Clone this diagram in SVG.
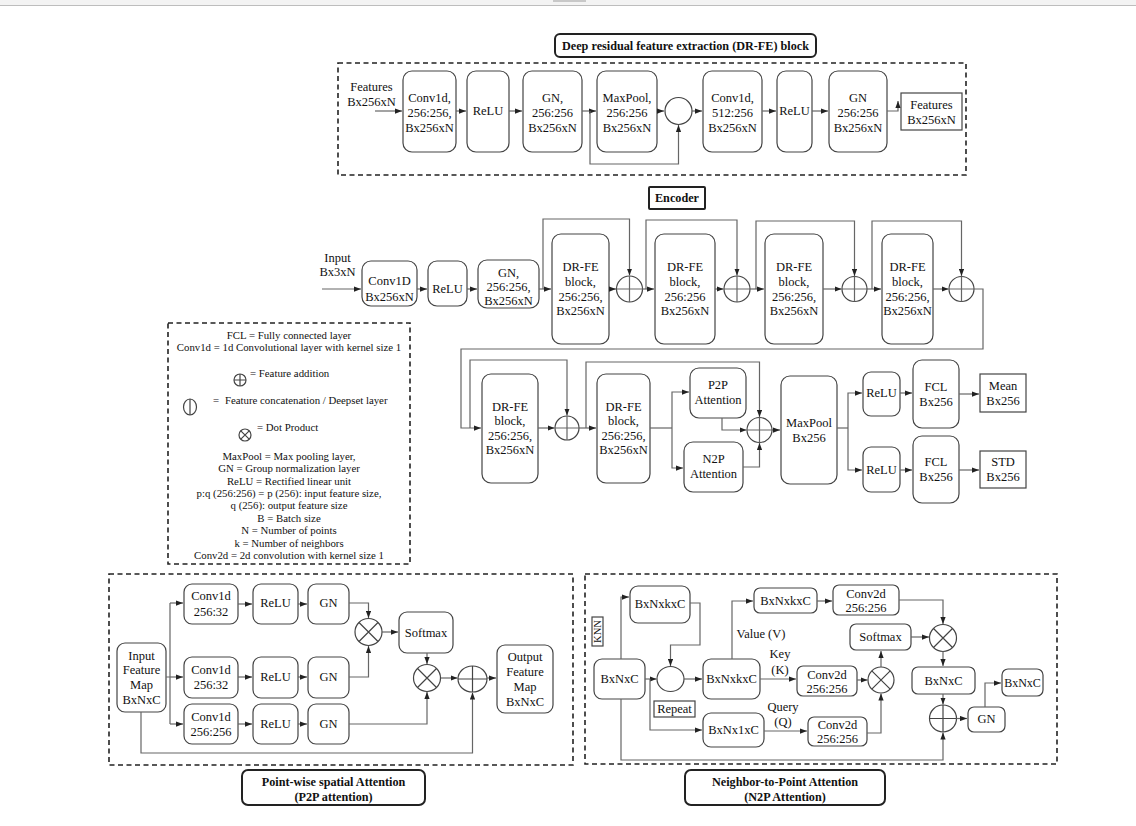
<svg xmlns="http://www.w3.org/2000/svg" width="1136" height="826" viewBox="0 0 1136 826" font-family="'Liberation Serif', 'Times New Roman', serif">
<style>
text{font-family:'Liberation Serif','Times New Roman',Times,serif;font-size:12.5px;fill:#111;text-anchor:middle}
.lg{font-size:10.8px}
.st{text-anchor:start}
.tt{font-weight:bold;font-size:12.2px}
.b{fill:#fff;stroke:#444;stroke-width:1.2}
.tb{fill:#fff;stroke:#222;stroke-width:2}
.dash{fill:none;stroke:#222;stroke-width:1.6;stroke-dasharray:5,3.5}
.c{fill:none;stroke:#666;stroke-width:1.2}
.a{fill:none;stroke:#666;stroke-width:1.2;marker-end:url(#ah)}
.sym{fill:#fff;stroke:#444;stroke-width:1.2}
</style>
<defs>
<marker id="ah" viewBox="0 0 8 6" refX="8" refY="3" markerWidth="7" markerHeight="5.5" orient="auto" markerUnits="userSpaceOnUse"><path d="M0,0 L8,3 L0,6 z" fill="#222"/></marker>
</defs>
<rect x="0" y="0" width="1136" height="826" fill="#fff"/>
<rect x="0" y="0" width="1136" height="5" fill="#f3f3f3"/>
<line x1="0" y1="5.5" x2="1136" y2="5.5" stroke="#bdbdbd" stroke-width="1"/>
<rect x="553" y="0" width="33" height="2" fill="#c8c8c8"/>

<!-- ===== DR-FE block ===== -->
<g id="drfe-frame">
<rect class="dash" x="338" y="63" width="628" height="112"/>
<rect class="tb" x="555" y="34" width="261" height="23" rx="5"/>
<text class="tt" x="685.5" y="50">Deep residual feature extraction (DR-FE) block</text>
</g>
<g id="drfe-in"><text x="371.5" y="91">Features</text><text x="371.5" y="106">Bx256xN</text></g>
<g id="drfe-conv1"><rect class="b" x="403" y="71" width="53" height="81" rx="9"/><text x="429.5" y="102">Conv1d,</text><text x="429.5" y="117">256:256,</text><text x="429.5" y="132">Bx256xN</text></g>
<g id="drfe-relu1"><rect class="b" x="467" y="71" width="42" height="81" rx="9"/><text x="488" y="115">ReLU</text></g>
<g id="drfe-gn1"><rect class="b" x="523" y="71" width="59" height="81" rx="9"/><text x="552.5" y="102">GN,</text><text x="552.5" y="117">256:256</text><text x="552.5" y="132">Bx256xN</text></g>
<g id="drfe-mp"><rect class="b" x="597" y="71" width="60" height="81" rx="9"/><text x="627" y="102">MaxPool,</text><text x="627" y="117">256:256</text><text x="627" y="132">Bx256xN</text></g>
<g id="drfe-cat"><circle class="sym" cx="678.5" cy="111" r="13.5"/></g>
<g id="drfe-conv2"><rect class="b" x="703" y="71" width="59" height="81" rx="9"/><text x="732.5" y="102">Conv1d,</text><text x="732.5" y="117">512:256</text><text x="732.5" y="132">Bx256xN</text></g>
<g id="drfe-relu2"><rect class="b" x="777" y="71" width="35" height="81" rx="9"/><text x="794.5" y="115">ReLU</text></g>
<g id="drfe-gn2"><rect class="b" x="829" y="71" width="58" height="81" rx="9"/><text x="858" y="102">GN</text><text x="858" y="117">256:256</text><text x="858" y="132">Bx256xN</text></g>
<g id="drfe-out"><rect class="b" x="901" y="93" width="61" height="37"/><text x="931.5" y="109">Features</text><text x="931.5" y="124">Bx256xN</text></g>

<!-- ===== Encoder ===== -->
<g id="enc-title"><rect class="tb" x="649" y="187" width="56" height="22" rx="1"/><text class="tt" x="677" y="202">Encoder</text></g>
<g id="enc-in"><text x="337.5" y="262">Input</text><text x="337.5" y="276">Bx3xN</text></g>
<g id="enc-conv"><rect class="b" x="362" y="261" width="55" height="45" rx="9"/><text x="389.5" y="285">Conv1D</text><text x="389.5" y="301">Bx256xN</text></g>
<g id="enc-relu"><rect class="b" x="428" y="261" width="39" height="45" rx="9"/><text x="447.5" y="293">ReLU</text></g>
<g id="enc-gn"><rect class="b" x="478" y="260" width="61" height="48" rx="9"/><text x="508.5" y="277">GN,</text><text x="508.5" y="291">256:256,</text><text x="508.5" y="305">Bx256xN</text></g>
<g id="enc-dr1"><rect class="b" x="552" y="234" width="57" height="110" rx="9"/><text x="580.5" y="271">DR-FE</text><text x="580.5" y="286">block,</text><text x="580.5" y="301">256:256,</text><text x="580.5" y="315">Bx256xN</text></g>
<g id="enc-add1"><circle class="sym" cx="629.5" cy="289" r="13"/><path class="c" d="M616.5,289 H642.5 M629.5,276 V302"/></g>
<g id="enc-dr2"><rect class="b" x="655" y="234" width="60" height="110" rx="9"/><text x="685" y="271">DR-FE</text><text x="685" y="286">block,</text><text x="685" y="301">256:256</text><text x="685" y="315">Bx256xN</text></g>
<g id="enc-add2"><circle class="sym" cx="737" cy="289" r="13"/><path class="c" d="M724,289 H750 M737,276 V302"/></g>
<g id="enc-dr3"><rect class="b" x="765" y="234" width="58" height="110" rx="9"/><text x="794" y="271">DR-FE</text><text x="794" y="286">block,</text><text x="794" y="301">256:256,</text><text x="794" y="315">Bx256xN</text></g>
<g id="enc-add3"><circle class="sym" cx="854.5" cy="289" r="12.5"/><path class="c" d="M842,289 H867 M854.5,276.5 V301.5"/></g>
<g id="enc-dr4"><rect class="b" x="882" y="234" width="51" height="110" rx="9"/><text x="907.5" y="271">DR-FE</text><text x="907.5" y="286">block,</text><text x="907.5" y="301">256:256,</text><text x="907.5" y="315">Bx256xN</text></g>
<g id="enc-add4"><circle class="sym" cx="961.5" cy="289" r="12.5"/><path class="c" d="M949,289 H974 M961.5,276.5 V301.5"/></g>
<g id="enc-dr5"><rect class="b" x="482" y="374" width="56" height="109" rx="9"/><text x="510" y="411">DR-FE</text><text x="510" y="425">block,</text><text x="510" y="440">256:256,</text><text x="510" y="454">Bx256xN</text></g>
<g id="enc-add5"><circle class="sym" cx="567" cy="428" r="12"/><path class="c" d="M555,428 H579 M567,416 V440"/></g>
<g id="enc-dr6"><rect class="b" x="597" y="374" width="53" height="109" rx="9"/><text x="623.5" y="411">DR-FE</text><text x="623.5" y="425">block,</text><text x="623.5" y="440">256:256,</text><text x="623.5" y="454">Bx256xN</text></g>
<g id="enc-p2p"><rect class="b" x="690" y="368" width="56" height="50" rx="9"/><text x="718" y="389">P2P</text><text x="718" y="404">Attention</text></g>
<g id="enc-n2p"><rect class="b" x="684" y="442" width="59" height="50" rx="9"/><text x="713.5" y="463">N2P</text><text x="713.5" y="478">Attention</text></g>
<g id="enc-add7"><circle class="sym" cx="759.5" cy="430" r="12.5"/><path class="c" d="M747,430 H772 M759.5,417.5 V442.5"/></g>
<g id="enc-mp"><rect class="b" x="781" y="376" width="56" height="108" rx="9"/><text x="809" y="427">MaxPool</text><text x="809" y="442">Bx256</text></g>
<g id="enc-relu-a"><rect class="b" x="863" y="372" width="37" height="44" rx="8"/><text x="881.5" y="397">ReLU</text></g>
<g id="enc-relu-b"><rect class="b" x="863" y="447" width="37" height="45" rx="8"/><text x="881.5" y="474">ReLU</text></g>
<g id="enc-fcl-a"><rect class="b" x="913" y="360" width="46" height="68" rx="9"/><text x="936" y="391">FCL</text><text x="936" y="406">Bx256</text></g>
<g id="enc-fcl-b"><rect class="b" x="913" y="436" width="46" height="67" rx="9"/><text x="936" y="466">FCL</text><text x="936" y="481">Bx256</text></g>
<g id="enc-mean"><rect class="b" x="980" y="374" width="46" height="38"/><text x="1003" y="390">Mean</text><text x="1003" y="405">Bx256</text></g>
<g id="enc-std"><rect class="b" x="980" y="451" width="46" height="37"/><text x="1003" y="466">STD</text><text x="1003" y="481">Bx256</text></g>

<!-- ===== Legend ===== -->
<g id="legend">
<rect class="dash" x="168" y="323" width="242" height="241"/>
<text class="lg" x="289" y="339">FCL = Fully connected layer</text>
<text class="lg" x="289" y="351">Conv1d = 1d Convolutional layer with kernel size 1</text>
<circle class="sym" cx="240" cy="380" r="6"/><path class="c" d="M234,380 H246 M240,374 V386" style="stroke:#444"/>
<text class="lg st" x="250" y="377">= Feature addition</text>
<ellipse class="sym" cx="190" cy="407" rx="6.5" ry="8"/><path class="c" d="M190,399 V415" style="stroke:#444"/>
<text class="lg st" x="213" y="404">=</text><text class="lg st" x="225" y="404">Feature concatenation / Deepset layer</text>
<circle class="sym" cx="245" cy="435" r="6"/><path class="c" d="M240.8,430.8 L249.2,439.2 M249.2,430.8 L240.8,439.2" style="stroke:#444"/>
<text class="lg st" x="257" y="431">= Dot Product</text>
<text class="lg" x="289" y="460">MaxPool = Max pooling layer,</text>
<text class="lg" x="289" y="472">GN = Group normalization layer</text>
<text class="lg" x="289" y="485">ReLU = Rectified linear unit</text>
<text class="lg" x="289" y="497">p:q (256:256) = p (256): input feature size,</text>
<text class="lg" x="289" y="509">q (256): output feature size</text>
<text class="lg" x="289" y="522">B = Batch size</text>
<text class="lg" x="289" y="534">N = Number of points</text>
<text class="lg" x="289" y="547">k = Number of neighbors</text>
<text class="lg" x="289" y="559">Conv2d = 2d convolution with kernel size 1</text>
</g>

<!-- ===== P2P ===== -->
<g id="p2p-frame">
<rect class="dash" x="109" y="574" width="464" height="191"/>
<rect class="tb" x="242" y="770" width="183" height="35" rx="6"/>
<text class="tt" x="333.5" y="786">Point-wise spatial Attention</text>
<text class="tt" x="333.5" y="801">(P2P attention)</text>
</g>
<g id="p2p-in"><rect class="b" x="117" y="643" width="49" height="69" rx="8"/><text x="141.5" y="660">Input</text><text x="141.5" y="674">Feature</text><text x="141.5" y="689">Map</text><text x="141.5" y="704">BxNxC</text></g>
<g id="p2p-conv-a"><rect class="b" x="184" y="584" width="54" height="40" rx="8"/><text x="211" y="600">Conv1d</text><text x="211" y="616">256:32</text></g>
<g id="p2p-relu-a"><rect class="b" x="253" y="584" width="45" height="40" rx="8"/><text x="275.5" y="607">ReLU</text></g>
<g id="p2p-gn-a"><rect class="b" x="308" y="584" width="41" height="40" rx="8"/><text x="328.5" y="607">GN</text></g>
<g id="p2p-conv-b"><rect class="b" x="184" y="657" width="54" height="41" rx="8"/><text x="211" y="674">Conv1d</text><text x="211" y="689">256:32</text></g>
<g id="p2p-relu-b"><rect class="b" x="253" y="657" width="45" height="41" rx="8"/><text x="275.5" y="681">ReLU</text></g>
<g id="p2p-gn-b"><rect class="b" x="308" y="657" width="41" height="41" rx="8"/><text x="328.5" y="681">GN</text></g>
<g id="p2p-conv-c"><rect class="b" x="184" y="704" width="54" height="40" rx="8"/><text x="211" y="721">Conv1d</text><text x="211" y="736">256:256</text></g>
<g id="p2p-relu-c"><rect class="b" x="253" y="704" width="45" height="40" rx="8"/><text x="275.5" y="728">ReLU</text></g>
<g id="p2p-gn-c"><rect class="b" x="308" y="704" width="41" height="40" rx="8"/><text x="328.5" y="728">GN</text></g>
<g id="p2p-dot1"><circle class="sym" cx="368.5" cy="632" r="13.5"/><path class="c" d="M359,622.5 L378,641.5 M378,622.5 L359,641.5" style="stroke:#444"/></g>
<g id="p2p-softmax"><rect class="b" x="399" y="612" width="54" height="41" rx="8"/><text x="426" y="637">Softmax</text></g>
<g id="p2p-dot2"><circle class="sym" cx="427" cy="678" r="13.5"/><path class="c" d="M417.5,668.5 L436.5,687.5 M436.5,668.5 L417.5,687.5" style="stroke:#444"/></g>
<g id="p2p-add"><ellipse class="sym" cx="472.5" cy="679" rx="14.5" ry="13"/><path class="c" d="M458,679 H487 M472.5,666 V692" style="stroke:#444"/></g>
<g id="p2p-out"><rect class="b" x="497" y="645" width="56" height="68" rx="8"/><text x="525" y="661">Output</text><text x="525" y="676">Feature</text><text x="525" y="691">Map</text><text x="525" y="706">BxNxC</text></g>

<!-- ===== N2P ===== -->
<g id="n2p-frame">
<rect class="dash" x="585" y="574" width="472" height="190"/>
<rect class="tb" x="685" y="770" width="200" height="35" rx="6"/>
<text class="tt" x="785" y="786">Neighbor-to-Point Attention</text>
<text class="tt" x="785" y="801">(N2P Attention)</text>
</g>
<g id="n2p-knn"><rect class="b" x="592" y="617" width="11" height="29"/><text x="0" y="0" style="font-size:10.5px" transform="translate(601.3,631.5) rotate(-90)">KNN</text></g>
<g id="n2p-bnc1"><rect class="b" x="594" y="659" width="51" height="40" rx="8"/><text x="619.5" y="683">BxNxC</text></g>
<g id="n2p-top1"><rect class="b" x="630" y="586" width="60" height="37" rx="8"/><text x="660" y="608">BxNxkxC</text></g>
<g id="n2p-cat"><ellipse class="sym" cx="670.5" cy="679" rx="13.5" ry="12.5"/></g>
<g id="n2p-repeat"><rect class="b" x="654" y="701" width="41" height="16"/><text x="674.5" y="713">Repeat</text></g>
<g id="n2p-mid"><rect class="b" x="703" y="659" width="57" height="40" rx="8"/><text x="731.5" y="683">BxNxkxC</text></g>
<g id="n2p-top2"><rect class="b" x="754" y="588" width="63" height="25" rx="6"/><text x="785.5" y="605">BxNxkxC</text></g>
<g id="n2p-labels"><text x="761" y="638">Value (V)</text><text x="780" y="658">Key</text><text x="780" y="674">(K)</text><text x="783" y="711">Query</text><text x="783" y="726">(Q)</text></g>
<g id="n2p-k2d"><rect class="b" x="797" y="666" width="60" height="30" rx="6"/><text x="827" y="679">Conv2d</text><text x="827" y="693">256:256</text></g>
<g id="n2p-bnx1"><rect class="b" x="703" y="713" width="61" height="34" rx="8"/><text x="733.5" y="734">BxNx1xC</text></g>
<g id="n2p-q2d"><rect class="b" x="808" y="717" width="59" height="29" rx="6"/><text x="837.5" y="729">Conv2d</text><text x="837.5" y="743">256:256</text></g>
<g id="n2p-dotkq"><circle class="sym" cx="881" cy="680" r="13"/><path class="c" d="M871.8,670.8 L890.2,689.2 M890.2,670.8 L871.8,689.2" style="stroke:#444"/></g>
<g id="n2p-softmax"><rect class="b" x="850" y="624" width="61" height="26" rx="6"/><text x="880.5" y="641">Softmax</text></g>
<g id="n2p-v2d"><rect class="b" x="833" y="585" width="66" height="30" rx="6"/><text x="866" y="598">Conv2d</text><text x="866" y="612">256:256</text></g>
<g id="n2p-dotv"><circle class="sym" cx="943" cy="638" r="13.5"/><path class="c" d="M933.5,628.5 L952.5,647.5 M952.5,628.5 L933.5,647.5" style="stroke:#444"/></g>
<g id="n2p-bnc2"><rect class="b" x="912" y="667" width="63" height="27" rx="6"/><text x="943.5" y="685">BxNxC</text></g>
<g id="n2p-add"><circle class="sym" cx="943" cy="718.5" r="13.5"/><path class="c" d="M929.5,718.5 H956.5 M943,705 V732" style="stroke:#444"/></g>
<g id="n2p-gn"><rect class="b" x="968" y="707" width="37" height="25" rx="6"/><text x="986.5" y="723">GN</text></g>
<g id="n2p-bnc3"><rect class="b" x="1002" y="669" width="41" height="27" rx="6"/><text x="1022.5" y="687" style="font-size:12px">BxNxC</text></g>

<!-- ===== Connectors ===== -->
<g id="connectors">
<path class="a" d="M375,111 H402"/>
<path class="a" d="M456,111 H466"/>
<path class="a" d="M509,111 H522"/>
<path class="a" d="M582,111 H596"/>
<path class="a" d="M590,111 V164 H678.5 V125"/>
<path class="a" d="M657,111 H664"/>
<path class="a" d="M692,111 H702"/>
<path class="a" d="M762,111 H776"/>
<path class="a" d="M812,111 H828"/>
<path class="a" d="M887,111 H898 V101"/>
<path class="a" d="M322,289 H361"/>
<path class="a" d="M417,289 H427"/>
<path class="a" d="M467,289 H477"/>
<path class="a" d="M539,289 H551"/>
<path class="a" d="M543,289 V219 H629.5 V275.5"/>
<path class="a" d="M609,289 H616"/>
<path class="a" d="M642.5,289 H654"/>
<path class="a" d="M646,289 V220 H737 V275.5"/>
<path class="a" d="M715,289 H723.5"/>
<path class="a" d="M750,289 H764"/>
<path class="a" d="M756,289 V221 H854.5 V276"/>
<path class="a" d="M823,289 H841.5"/>
<path class="a" d="M867,289 H881"/>
<path class="a" d="M872,289 V221 H961.5 V276"/>
<path class="a" d="M933,289 H948.5"/>
<path class="a" d="M974,289 H983 V349 H461 V428 H481"/>
<path class="a" d="M470,428 V360 H567 V415.5"/>
<path class="a" d="M538,428 H554.5"/>
<path class="a" d="M579,428 H596"/>
<path class="a" d="M586,428 V362 H759.5 V417"/>
<path class="c" d="M650,428 H672"/>
<path class="a" d="M672,428 V392 H689"/>
<path class="a" d="M672,428 V468 H683"/>
<path class="a" d="M722,418 V430 H746.5"/>
<path class="a" d="M743,467 H759.5 V443"/>
<path class="a" d="M772,430 H780"/>
<path class="c" d="M837,428 H848"/>
<path class="a" d="M848,428 V393 H862"/>
<path class="a" d="M848,428 V470 H862"/>
<path class="a" d="M900,393 H912"/>
<path class="a" d="M900,470 H912"/>
<path class="a" d="M959,394 H979"/>
<path class="a" d="M959,470 H979"/>
<path class="c" d="M166,677 H170 M170,603 V724"/>
<path class="a" d="M170,603 H183"/>
<path class="a" d="M170,677 H183"/>
<path class="a" d="M170,724 H183"/>
<path class="a" d="M238,604 H252"/>
<path class="a" d="M298,604 H307"/>
<path class="a" d="M238,677 H252"/>
<path class="a" d="M298,677 H307"/>
<path class="a" d="M238,724 H252"/>
<path class="a" d="M298,724 H307"/>
<path class="a" d="M349,603 H368.5 V618"/>
<path class="a" d="M349,677 H368.5 V646"/>
<path class="a" d="M382,632 H398"/>
<path class="a" d="M427,653 V664"/>
<path class="a" d="M349,724 H427 V692"/>
<path class="a" d="M441,678 H457.5"/>
<path class="a" d="M141,712 V753 H472.5 V692.5"/>
<path class="a" d="M487,678 H496"/>
<path class="a" d="M621,659 V597 H629"/>
<path class="a" d="M690,603 H700 V645 H670.5 V666"/>
<path class="a" d="M645,679 H656.5"/>
<path class="a" d="M650,679 V730 H702"/>
<path class="a" d="M684,679 H702"/>
<path class="a" d="M732,659 V601 H753"/>
<path class="a" d="M760,679 H796"/>
<path class="a" d="M857,680 H867.5"/>
<path class="a" d="M764,731 H807"/>
<path class="a" d="M867,733 H881 V693.5"/>
<path class="a" d="M881,667 V651"/>
<path class="a" d="M911,637 H929"/>
<path class="a" d="M817,601 H832"/>
<path class="a" d="M899,600 H943 V624"/>
<path class="a" d="M943,651.5 V666"/>
<path class="a" d="M943,694 V704.5"/>
<path class="a" d="M621,699 V760 H943 V732.5"/>
<path class="a" d="M956.5,718.5 H967"/>
<path class="a" d="M985,707 V683 H1001"/>
</g>
</svg>
